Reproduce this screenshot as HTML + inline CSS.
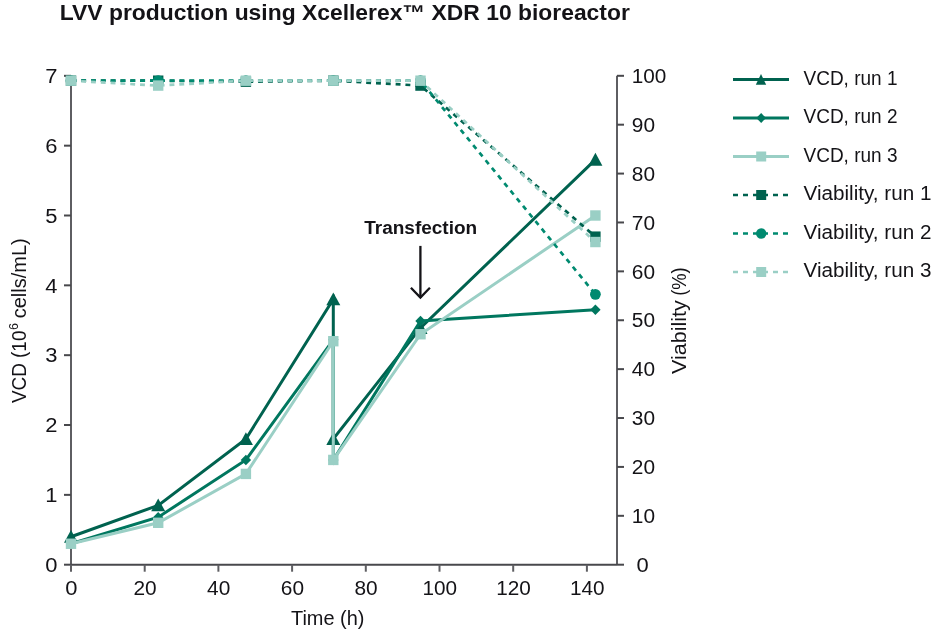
<!DOCTYPE html>
<html><head><meta charset="utf-8"><style>
html,body{margin:0;padding:0;background:#fff;width:932px;height:629px;overflow:hidden}
svg{display:block;will-change:transform}
</style></head><body>
<svg width="932" height="629" viewBox="0 0 932 629">
<g stroke="#5a5a5e" stroke-width="2" fill="none">
<path d="M71,75.8V564.7M617,564.7V75.8" stroke="#5e5e62"/>
<path d="M71,564.7H617" stroke="#48484c"/>
<path d="M64,564.70H71" stroke="#48484c"/>
<path d="M64,494.86H71" stroke="#48484c"/>
<path d="M64,425.02H71" stroke="#48484c"/>
<path d="M64,355.18H71" stroke="#48484c"/>
<path d="M64,285.34H71" stroke="#48484c"/>
<path d="M64,215.50H71" stroke="#48484c"/>
<path d="M64,145.66H71" stroke="#48484c"/>
<path d="M64,75.82H71" stroke="#48484c"/>
<path d="M617,564.70H624" stroke="#48484c"/>
<path d="M617,515.81H624" stroke="#48484c"/>
<path d="M617,466.92H624" stroke="#48484c"/>
<path d="M617,418.03H624" stroke="#48484c"/>
<path d="M617,369.14H624" stroke="#48484c"/>
<path d="M617,320.25H624" stroke="#48484c"/>
<path d="M617,271.36H624" stroke="#48484c"/>
<path d="M617,222.47H624" stroke="#48484c"/>
<path d="M617,173.58H624" stroke="#48484c"/>
<path d="M617,124.69H624" stroke="#48484c"/>
<path d="M617,75.80H624" stroke="#48484c"/>
<path d="M71.00,564.7V571.7" stroke="#5e5e62"/>
<path d="M144.70,564.7V571.7" stroke="#5e5e62"/>
<path d="M218.40,564.7V571.7" stroke="#5e5e62"/>
<path d="M292.10,564.7V571.7" stroke="#5e5e62"/>
<path d="M365.80,564.7V571.7" stroke="#5e5e62"/>
<path d="M439.50,564.7V571.7" stroke="#5e5e62"/>
<path d="M513.20,564.7V571.7" stroke="#5e5e62"/>
<path d="M586.90,564.7V571.7" stroke="#5e5e62"/>
</g>
<g font-family="Liberation Sans" font-size="20" fill="#141317">
<text x="45.20" y="571.90" textLength="12.2" lengthAdjust="spacingAndGlyphs">0</text>
<text x="45.20" y="502.06" textLength="12.2" lengthAdjust="spacingAndGlyphs">1</text>
<text x="45.20" y="432.22" textLength="12.2" lengthAdjust="spacingAndGlyphs">2</text>
<text x="45.20" y="362.38" textLength="12.2" lengthAdjust="spacingAndGlyphs">3</text>
<text x="45.20" y="292.54" textLength="12.2" lengthAdjust="spacingAndGlyphs">4</text>
<text x="45.20" y="222.70" textLength="12.2" lengthAdjust="spacingAndGlyphs">5</text>
<text x="45.20" y="152.86" textLength="12.2" lengthAdjust="spacingAndGlyphs">6</text>
<text x="45.20" y="83.02" textLength="12.2" lengthAdjust="spacingAndGlyphs">7</text>
<text x="636.4" y="571.90" textLength="12.2" lengthAdjust="spacingAndGlyphs">0</text>
<text x="631.8" y="523.01" textLength="23.2" lengthAdjust="spacingAndGlyphs">10</text>
<text x="631.8" y="474.12" textLength="23.2" lengthAdjust="spacingAndGlyphs">20</text>
<text x="631.8" y="425.23" textLength="23.2" lengthAdjust="spacingAndGlyphs">30</text>
<text x="631.8" y="376.34" textLength="23.2" lengthAdjust="spacingAndGlyphs">40</text>
<text x="631.8" y="327.45" textLength="23.2" lengthAdjust="spacingAndGlyphs">50</text>
<text x="631.8" y="278.56" textLength="23.2" lengthAdjust="spacingAndGlyphs">60</text>
<text x="631.8" y="229.67" textLength="23.2" lengthAdjust="spacingAndGlyphs">70</text>
<text x="631.8" y="180.78" textLength="23.2" lengthAdjust="spacingAndGlyphs">80</text>
<text x="631.8" y="131.89" textLength="23.2" lengthAdjust="spacingAndGlyphs">90</text>
<text x="631.8" y="83.00" textLength="34.6" lengthAdjust="spacingAndGlyphs">100</text>
<text x="65.20" y="594.6" textLength="12.2" lengthAdjust="spacingAndGlyphs">0</text>
<text x="133.40" y="594.6" textLength="23.2" lengthAdjust="spacingAndGlyphs">20</text>
<text x="207.10" y="594.6" textLength="23.2" lengthAdjust="spacingAndGlyphs">40</text>
<text x="280.80" y="594.6" textLength="23.2" lengthAdjust="spacingAndGlyphs">60</text>
<text x="354.50" y="594.6" textLength="23.2" lengthAdjust="spacingAndGlyphs">80</text>
<text x="422.50" y="594.6" textLength="34.6" lengthAdjust="spacingAndGlyphs">100</text>
<text x="496.20" y="594.6" textLength="34.6" lengthAdjust="spacingAndGlyphs">120</text>
<text x="569.90" y="594.6" textLength="34.6" lengthAdjust="spacingAndGlyphs">140</text>
<text x="291" y="624.5" textLength="73.5" lengthAdjust="spacingAndGlyphs">Time (h)</text>
<g transform="translate(25.8,402.5) rotate(-90)"><text x="-0.6" textLength="72.5" lengthAdjust="spacingAndGlyphs">VCD (10</text><text x="72.6" y="-7.5" font-size="12.5">6</text><text x="84.2" textLength="80.0" lengthAdjust="spacingAndGlyphs">cells/mL)</text></g>
<g transform="translate(686.2,373.3) rotate(-90)"><text x="-0.8" textLength="74.0" lengthAdjust="spacingAndGlyphs">Viability</text><text x="77.5" textLength="28.5" lengthAdjust="spacingAndGlyphs">(%)</text></g>
</g>
<text x="59.8" y="20.1" font-family="Liberation Sans" font-weight="bold" font-size="21.4" fill="#141317" textLength="570" lengthAdjust="spacingAndGlyphs">LVV production using Xcellerex™ XDR 10 bioreactor</text>
<text x="364.2" y="233.6" font-family="Liberation Sans" font-weight="bold" font-size="17.5" fill="#141317" textLength="113" lengthAdjust="spacingAndGlyphs">Transfection</text>
<g stroke="#141317" stroke-width="2.3" fill="none"><path d="M420.4,245.9V298"/><path d="M410.9,287.8L420.4,297.5L429.9,287.8"/></g>
<polyline points="71.00,536.76 158.20,505.34 245.90,438.99 333.30,299.31 333.30,438.99 420.50,327.94 595.40,159.63" fill="none" stroke="#00624f" stroke-width="3"/>
<g fill="#00624f"><path d="M71.00,529.96L78.00,542.76L64.00,542.76Z"/><path d="M158.20,498.54L165.20,511.34L151.20,511.34Z"/><path d="M245.90,432.19L252.90,444.99L238.90,444.99Z"/><path d="M333.30,292.51L340.30,305.31L326.30,305.31Z"/><path d="M333.30,432.19L340.30,444.99L326.30,444.99Z"/><path d="M420.50,321.14L427.50,333.94L413.50,333.94Z"/><path d="M595.40,152.83L602.40,165.63L588.40,165.63Z"/></g>
<polyline points="71.00,543.75 158.20,517.21 245.90,459.94 333.30,339.82 333.30,459.94 420.50,320.96 595.40,309.78" fill="none" stroke="#00775f" stroke-width="3"/>
<g fill="#00775f"><path d="M71.00,538.55L76.20,543.75L71.00,548.95L65.80,543.75Z"/><path d="M158.20,512.01L163.40,517.21L158.20,522.41L153.00,517.21Z"/><path d="M245.90,454.74L251.10,459.94L245.90,465.14L240.70,459.94Z"/><path d="M333.30,334.62L338.50,339.82L333.30,345.02L328.10,339.82Z"/><path d="M333.30,454.74L338.50,459.94L333.30,465.14L328.10,459.94Z"/><path d="M420.50,315.76L425.70,320.96L420.50,326.16L415.30,320.96Z"/><path d="M595.40,304.58L600.60,309.78L595.40,314.98L590.20,309.78Z"/></g>
<polyline points="71.00,543.75 158.20,522.80 245.90,473.91 333.30,341.21 333.30,459.94 420.50,334.23 595.40,215.50" fill="none" stroke="#9acfc5" stroke-width="3"/>
<g fill="#9acfc5"><rect x="65.80" y="538.55" width="10.4" height="10.4"/><rect x="153.00" y="517.60" width="10.4" height="10.4"/><rect x="240.70" y="468.71" width="10.4" height="10.4"/><rect x="328.10" y="336.01" width="10.4" height="10.4"/><rect x="328.10" y="454.74" width="10.4" height="10.4"/><rect x="415.30" y="329.03" width="10.4" height="10.4"/><rect x="590.20" y="210.30" width="10.4" height="10.4"/></g>
<polyline points="71.00,80.69 158.20,80.69 245.90,81.67 333.30,80.69 420.50,85.58" fill="none" stroke="#00624f" stroke-width="2.7" stroke-dasharray="4.915 4.915" stroke-dashoffset="-0.34"/>
<polyline points="420.50,85.58 595.40,236.65" fill="none" stroke="#00624f" stroke-width="2.7" stroke-dasharray="4.915 4.915" stroke-dashoffset="-4.14"/>
<g fill="#00624f"><rect x="65.80" y="75.49" width="10.4" height="10.4"/><rect x="153.00" y="75.49" width="10.4" height="10.4"/><rect x="240.70" y="76.47" width="10.4" height="10.4"/><rect x="328.10" y="75.49" width="10.4" height="10.4"/><rect x="415.30" y="80.38" width="10.4" height="10.4"/><rect x="590.20" y="231.45" width="10.4" height="10.4"/></g>
<polyline points="71.00,80.69 158.20,80.69 245.90,80.69 333.30,80.69 420.50,80.69" fill="none" stroke="#008a70" stroke-width="2.7" stroke-dasharray="4.915 4.915" stroke-dashoffset="-0.34"/>
<polyline points="420.50,80.69 595.40,294.34" fill="none" stroke="#008a70" stroke-width="2.7" stroke-dasharray="4.915 4.915" stroke-dashoffset="-4.54"/>
<g fill="#008a70"><circle cx="71.00" cy="80.69" r="5.4"/><circle cx="158.20" cy="80.69" r="5.4"/><circle cx="245.90" cy="80.69" r="5.4"/><circle cx="333.30" cy="80.69" r="5.4"/><circle cx="420.50" cy="80.69" r="5.4"/><circle cx="595.40" cy="294.34" r="5.4"/></g>
<polyline points="71.00,80.69 158.20,85.58 245.90,80.69 333.30,80.69 420.50,80.69" fill="none" stroke="#9acfc5" stroke-width="2.7" stroke-dasharray="4.915 4.915" stroke-dashoffset="-0.34"/>
<polyline points="420.50,80.69 595.40,242.03" fill="none" stroke="#9acfc5" stroke-width="2.7" stroke-dasharray="4.915 4.915" stroke-dashoffset="0.96"/>
<g fill="#9acfc5"><rect x="65.80" y="75.49" width="10.4" height="10.4"/><rect x="153.00" y="80.38" width="10.4" height="10.4"/><rect x="240.70" y="75.49" width="10.4" height="10.4"/><rect x="328.10" y="75.49" width="10.4" height="10.4"/><rect x="415.30" y="75.49" width="10.4" height="10.4"/><rect x="590.20" y="236.83" width="10.4" height="10.4"/></g>
<path d="M733,79.5H789" stroke="#00624f" stroke-width="3"/>
<g fill="#00624f"><path d="M761.00,74.10L766.20,84.70L755.80,84.70Z"/></g>
<text x="803.5" y="84.70" font-family="Liberation Sans" font-size="19.5" fill="#141317" textLength="94" lengthAdjust="spacingAndGlyphs">VCD, run 1</text>
<path d="M733,118.0H789" stroke="#00775f" stroke-width="3"/>
<g fill="#00775f"><path d="M761.20,113.10L766.10,118.00L761.20,122.90L756.30,118.00Z"/></g>
<text x="803.5" y="123.20" font-family="Liberation Sans" font-size="19.5" fill="#141317" textLength="94" lengthAdjust="spacingAndGlyphs">VCD, run 2</text>
<path d="M733,156.5H789" stroke="#9acfc5" stroke-width="3"/>
<g fill="#9acfc5"><rect x="756.20" y="151.50" width="10" height="10"/></g>
<text x="803.5" y="161.70" font-family="Liberation Sans" font-size="19.5" fill="#141317" textLength="94" lengthAdjust="spacingAndGlyphs">VCD, run 3</text>
<path d="M733,195.0H789" stroke="#00624f" stroke-width="2.7" stroke-dasharray="5 5"/>
<g fill="#00624f"><rect x="756.20" y="190.00" width="10" height="10"/></g>
<text x="803.5" y="200.20" font-family="Liberation Sans" font-size="19.5" fill="#141317" textLength="128" lengthAdjust="spacingAndGlyphs">Viability, run 1</text>
<path d="M733,233.5H789" stroke="#008a70" stroke-width="2.7" stroke-dasharray="5 5"/>
<g fill="#008a70"><circle cx="761.20" cy="233.50" r="5.2"/></g>
<text x="803.5" y="238.70" font-family="Liberation Sans" font-size="19.5" fill="#141317" textLength="128" lengthAdjust="spacingAndGlyphs">Viability, run 2</text>
<path d="M733,272.0H789" stroke="#9acfc5" stroke-width="2.7" stroke-dasharray="5 5"/>
<g fill="#9acfc5"><rect x="756.20" y="267.00" width="10" height="10"/></g>
<text x="803.5" y="277.20" font-family="Liberation Sans" font-size="19.5" fill="#141317" textLength="128" lengthAdjust="spacingAndGlyphs">Viability, run 3</text>
</svg>
</body></html>
